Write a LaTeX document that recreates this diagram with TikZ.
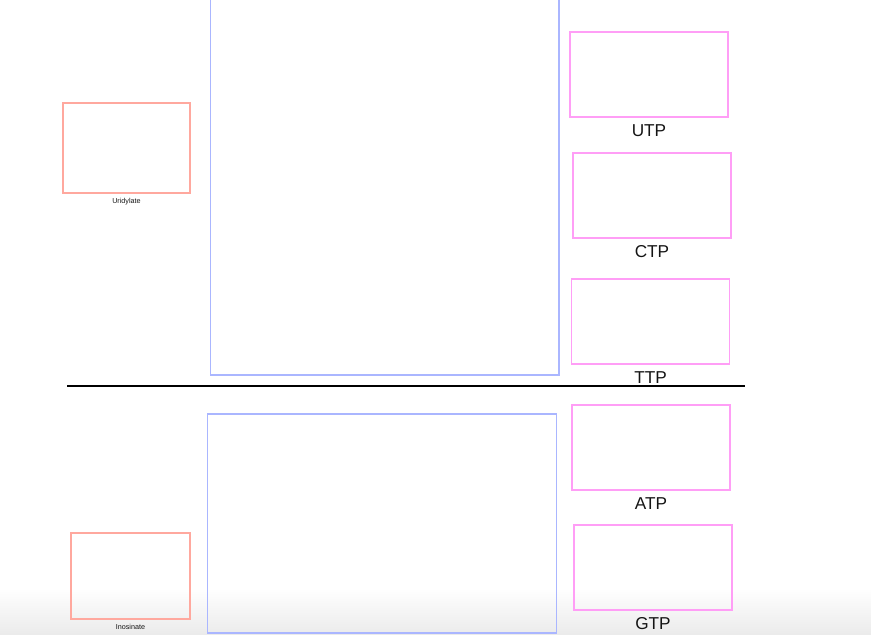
\documentclass[tikz,border=0pt]{standalone}
\usepackage{fontspec}
\setmainfont{Liberation Sans}
\usepackage{tikz}
\usetikzlibrary{positioning}
\definecolor{substratecolour}{RGB}{255,168,158}
\definecolor{pathwaycolour}{RGB}{170,182,255}
\definecolor{productcolour}{RGB}{255,158,246}
\definecolor{labelcolour}{RGB}{20,20,20}
\newcommand\boxwd{1.25pt}
\newcommand\dividerwd{1.4pt}
\newcommand\biglabelsize{\fontsize{17.2}{19}\selectfont}
\newcommand\smalllabelsize{\fontsize{7.2}{8}\selectfont}
\tikzstyle{panel}      = [draw, line width=\boxwd, inner sep=0pt, outer sep=0pt]
\tikzstyle{substrate}  = [panel, color=substratecolour]
\tikzstyle{pathway}    = [panel, color=pathwaycolour]
\tikzstyle{product}    = [panel, color=productcolour, minimum width=158pt, minimum height=85pt]
\tikzstyle{biglabel}   = [inner sep=0pt, text=labelcolour, font=\biglabelsize]
\tikzstyle{smalllabel} = [inner sep=0pt, text=labelcolour, font=\smalllabelsize]
\newcommand\triphosphate[3]{%
  \node[product] (#1) at (#2) {};
  \node[biglabel, below=7pt of #1] (#1label) {#3};
}

\begin{document}
\begin{tikzpicture}[x=1pt,y=-1pt]
  \useasboundingbox (0,0) rectangle (871,635);
  \clip (0,0) rectangle (871,635);
  % window shadow at the foot
  \shade[top color=white, bottom color=black!8] (0,588) rectangle (871,635);
  % substrates
  \node[substrate, minimum width=127pt, minimum height=90pt] (uridylate) at (126.5,148) {};
  \node[smalllabel, below=4.8pt of uridylate] (uridylatelabel) {Uridylate};
  \node[substrate, minimum width=119pt, minimum height=86pt] (inosinate) at (130.5,576) {};
  \node[smalllabel, below=4.8pt of inosinate] (inosinatelabel) {Inosinate};
  % pathways
  \node[pathway, minimum width=348.5pt, minimum height=395pt] (pyrimidinepathway) at (384.75,177.5) {};
  \node[pathway, minimum width=349pt, minimum height=219pt] (purinepathway) at (382,523.5) {};
  % products
  \triphosphate{utp}{649,74.5}{UTP}
  \triphosphate{ctp}{652,195.5}{CTP}
  \triphosphate{ttp}{650.5,321.5}{TTP}
  \triphosphate{atp}{651,447.5}{ATP}
  \triphosphate{gtp}{653,567.5}{GTP}
  % divider
  \coordinate (dividerleft) at (67,386);
  \coordinate (dividerright) at (745,386);
  \draw[line width=\dividerwd] (dividerleft) -- (dividerright);
\end{tikzpicture}
\end{document}
